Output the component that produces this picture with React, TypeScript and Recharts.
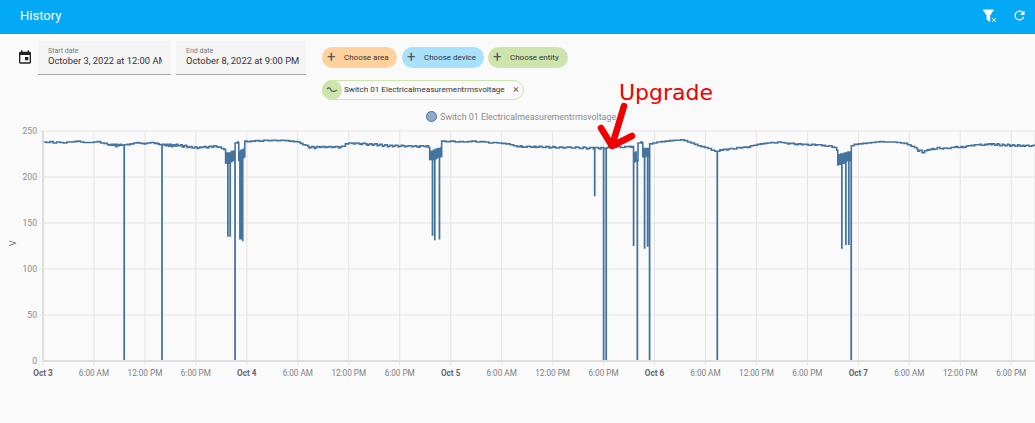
import { CartesianGrid, Line, LineChart, XAxis, YAxis } from "recharts";

const seriesName = "Switch 01 Electricalmeasurementrmsvoltage";
const lineColor = "#44739e";

// hours since Oct 3 00:00, then volts
const oct3: number[][] = [
  [0, 238], [0.4, 237.5], [0.8, 238.5], [1.2, 237], [1.6, 238], [2, 237.5], [2.4, 237], [2.8, 238], [3.2, 238],
  [3.6, 238.5], [4, 239], [4.4, 238], [4.8, 237.5], [5.2, 237.5], [5.6, 237.5], [6, 238], [6.4, 238.5], [6.8, 237],
  [7.2, 236.5], [7.6, 235], [8, 235.5], [8.2, 234.5], [8.4, 235.5], [8.6, 233], [8.8, 235], [9, 234.5], [9.2, 235],
  [9.55, 0], [9.57, 235], [9.9, 235.5], [10.3, 236], [10.7, 237], [11.1, 237.5], [11.5, 236.5], [11.9, 236],
  [12.3, 237], [12.7, 237.5], [13.1, 236.5], [13.5, 236], [14.0, 0], [14.02, 235.5], [14.3, 234.5], [14.5, 235.5],
  [14.7, 234], [14.9, 235.5], [15.1, 233.5], [15.3, 235], [15.5, 234], [15.7, 235.5], [15.9, 234], [16.2, 235],
  [16.4, 233], [16.6, 234], [16.9, 233], [17.1, 232], [17.4, 233], [17.7, 231.5], [18, 232.5], [18.3, 231.5],
  [18.6, 232], [18.9, 233], [19.2, 232], [19.5, 233], [19.8, 233], [20.1, 234], [20.4, 233], [20.7, 232.5], [21, 231],
  [21.3, 230], [21.5, 215], [21.6, 226], [21.7, 216], [21.76, 136], [21.78, 225], [21.9, 216], [22, 226], [22.03, 136],
  [22.05, 216], [22.15, 227], [22.22, 217], [22.3, 227], [22.38, 218], [22.46, 228], [22.54, 219], [22.6, 0],
  [22.62, 237], [22.9, 238], [23.0, 237], [23.05, 218], [23.12, 226], [23.18, 133], [23.2, 226], [23.28, 219],
  [23.34, 133], [23.36, 228], [23.44, 220], [23.5, 131], [23.52, 229], [23.6, 221], [23.66, 230], [23.72, 222],
];

const oct4: number[][] = [
  [23.76, 239], [24, 238.5], [24.5, 239], [25, 239.5], [25.5, 239], [26, 240], [26.5, 239.5], [27, 240], [27.5, 239.5],
  [28, 240], [28.5, 239.5], [29, 239], [29.5, 238.5], [30, 238], [30.3, 236.5], [30.6, 235], [30.9, 234.5], [31.2, 233],
  [31.5, 232], [31.8, 233], [32.1, 232], [32.4, 233], [32.7, 232.5], [33, 233], [33.4, 232.5], [33.8, 233],
  [34.2, 232.5], [34.6, 233], [35, 232.5], [35.3, 233.5], [35.6, 236], [36, 237], [36.4, 236.5], [36.8, 237], [37.2, 236],
  [37.6, 236.5], [38, 236], [38.3, 235], [38.6, 236], [38.9, 235], [39.2, 236], [39.5, 234.5], [39.8, 235.5], [40.1, 234],
  [40.4, 235], [40.7, 233.5], [41, 234.5], [41.3, 233.5], [41.6, 234.5], [42, 233.5], [42.4, 234], [42.8, 233.5], [43.2, 234],
  [43.6, 233.5], [44, 233], [44.4, 234], [44.8, 233.5], [45.2, 234], [45.4, 232], [45.53, 219], [45.6, 228], [45.68, 219],
  [45.76, 228], [45.85, 137], [45.87, 219], [45.98, 229], [46.05, 220], [46.12, 132], [46.14, 229], [46.24, 220], [46.32, 230],
  [46.4, 221], [46.48, 231], [46.56, 222], [46.67, 133], [46.69, 231], [46.78, 222], [46.86, 232],
];

const oct5: number[][] = [
  [46.94, 239], [47.4, 238.5], [48, 239], [48.5, 238], [49, 238.5], [49.5, 238], [50, 238.5], [50.5, 239], [51, 238],
  [51.5, 238.5], [52, 238], [52.5, 237], [53, 237.5], [53.5, 237], [54, 236.5], [54.5, 236], [55, 235], [55.4, 234],
  [55.8, 233], [56.2, 234], [56.6, 232.5], [57, 233.5], [57.4, 232.5], [57.8, 233.5], [58.2, 232.5], [58.6, 233], [59, 232],
  [59.4, 233], [59.8, 232], [60.2, 232.5], [60.6, 231.5], [61, 232.5], [61.5, 232], [62, 232.5], [62.5, 231.5], [63, 232],
  [63.4, 231], [63.8, 232], [64.2, 231], [64.6, 232], [64.95, 180], [64.97, 232], [65.4, 231], [65.7, 232], [66.0, 0],
  [66.02, 231], [66.3, 0], [66.32, 231.5], [66.6, 233], [67, 232.5], [67.5, 233], [68, 232], [68.5, 233], [69, 233.5],
  [69.4, 233], [69.53, 126], [69.55, 216], [69.66, 226], [69.72, 217], [69.8, 227], [69.97, 0], [69.99, 218], [70.06, 237],
  [70.4, 238], [70.55, 237], [70.62, 222], [70.7, 231], [70.82, 123], [70.84, 222], [70.95, 231], [71.02, 223], [71.1, 230],
  [71.18, 125], [71.2, 223], [71.3, 231], [71.41, 0],
];

const oct6: number[][] = [
  [71.43, 236], [71.8, 237], [72.3, 238], [72.8, 238.5], [73.3, 239], [73.8, 239.5], [74.3, 240], [74.8, 240], [75.1, 240.5],
  [75.5, 239.5], [75.9, 238], [76.3, 237], [76.7, 235.5], [77.1, 234], [77.5, 233], [77.9, 232], [78.3, 231], [78.7, 229],
  [79.1, 228], [79.38, 0], [79.4, 228], [79.7, 229.5], [80.1, 230], [80.5, 229.5], [80.9, 231], [81.3, 230.5], [81.7, 232],
  [82.1, 231.5], [82.5, 232.5], [82.9, 232], [83.3, 234], [83.7, 234.5], [84.1, 235.5], [84.5, 236], [84.9, 236.5], [85.3, 237],
  [85.7, 237.5], [86.1, 237], [86.5, 238], [86.9, 237.5], [87.3, 237], [87.7, 236], [88.1, 236.5], [88.5, 235.5], [88.9, 236],
  [89.3, 235], [89.7, 235.5], [90.1, 234.5], [90.5, 235.5], [90.9, 234.5], [91.3, 235], [91.7, 234], [92.1, 233.5], [92.5, 234],
  [92.9, 232.5], [93.2, 232], [93.45, 229], [93.58, 213], [93.65, 224], [93.73, 214], [93.81, 224], [93.89, 214], [93.97, 225],
  [94.05, 123], [94.07, 215], [94.19, 225], [94.27, 215], [94.35, 226], [94.43, 216], [94.52, 127], [94.54, 217], [94.65, 226],
  [94.73, 218], [94.8, 227], [94.87, 127], [94.89, 218], [95.01, 227], [95.15, 0],
];

const oct7: number[][] = [
  [95.17, 234], [95.5, 235.5], [96, 236], [96.5, 236.5], [97, 237], [97.5, 237.5], [98, 238], [98.5, 238.5], [99, 238],
  [99.5, 238], [100, 238], [100.5, 237.5], [101, 237], [101.4, 236.5], [101.8, 235], [102.2, 233.5], [102.6, 232],
  [102.9, 230.5], [103.2, 229], [103.5, 226.5], [103.8, 228.5], [104.1, 229.5], [104.4, 230], [104.7, 231], [105, 230.5],
  [105.3, 232], [105.6, 231], [105.9, 230.5], [106.2, 231.5], [106.5, 231], [106.9, 232], [107.3, 232.5], [107.7, 232],
  [108.1, 233], [108.5, 232.5], [108.9, 234], [109.3, 234.5], [109.7, 235], [110.1, 235], [110.5, 234.5], [110.9, 235.5],
  [111.3, 236], [111.6, 235], [111.9, 236], [112.2, 234.5], [112.5, 235.5], [112.8, 234], [113.1, 235], [113.4, 234],
  [113.7, 235], [114, 234], [114.3, 234.5], [114.6, 233.5], [114.9, 234.5], [115.2, 234], [115.5, 233.5], [115.8, 234.5],
  [116.1, 233.5], [116.4, 234], [116.8, 234],
];

// extra readings in the noisy stretches and the thick low bands
const rippleOct3: number[][] = [
  [7.8, 234.5], [8.1, 235.5], [8.3, 235.5], [8.5, 234], [8.7, 235.5], [8.9, 234], [9.1, 235.5], [9.3, 234.5], [10.1, 235],
  [11.3, 237], [12.1, 236.5], [13.3, 237], [13.7, 235], [14.2, 235.5], [14.4, 234], [14.6, 235.5], [14.8, 233.5], [15, 235.5],
  [15.2, 233], [15.4, 235], [15.6, 233.5], [15.8, 235.5], [16.05, 234], [16.3, 235], [16.5, 232.5], [16.75, 234.5], [17, 232],
  [17.25, 233], [17.55, 231.5], [17.85, 232.5], [18.15, 231], [18.45, 232.5], [18.75, 232], [19.05, 233], [19.35, 231.5], [19.65, 233.5],
  [19.95, 232.5], [20.25, 234], [20.55, 232.5], [20.85, 232.5],
  [21.56, 217], [21.64, 216], [21.73, 226], [21.86, 226], [21.95, 215], [22.08, 226], [22.12, 217], [22.18, 218], [22.26, 228],
  [22.34, 218], [22.42, 228], [22.5, 220], [23.08, 219], [23.15, 219], [23.25, 228], [23.31, 229], [23.41, 229], [23.47, 221],
  [23.57, 230], [23.63, 222], [23.69, 222],
];

const rippleOct4: number[][] = [
  [31, 234.5], [31.35, 231.5], [31.65, 233], [31.95, 231], [32.25, 233], [32.55, 232], [32.85, 233], [33.2, 232], [33.6, 233],
  [34, 232], [34.4, 233], [34.8, 231.5], [35.15, 233.5], [36.2, 237], [36.6, 236], [37, 237], [37.4, 235.5], [37.8, 236.5], [38.15, 234.5],
  [38.45, 236], [38.75, 234.5], [39.05, 236], [39.35, 234], [39.65, 235.5], [39.95, 233.5], [40.25, 235], [40.55, 233], [40.85, 234.5],
  [41.15, 233], [41.45, 234.5], [41.8, 233], [42.2, 234.5], [42.6, 233], [43, 234], [43.4, 233], [43.8, 234], [44.2, 232.5], [44.6, 234], [45, 233],
  [45.57, 220], [45.64, 228], [45.72, 219], [45.8, 219], [45.94, 228], [46.02, 229], [46.09, 220], [46.2, 230], [46.28, 221], [46.36, 230],
  [46.44, 222], [46.52, 231], [46.6, 222], [46.76, 231], [46.82, 223], [46.9, 222],
];

const rippleOct5: number[][] = [
  [53.2, 237.5], [55.6, 234], [56.4, 232.5], [57.2, 233.5], [58, 232], [58.4, 233.5], [58.8, 232], [59.2, 233], [59.6, 231.5], [60, 233],
  [60.4, 231.5], [60.8, 232.5], [61.2, 231.5], [61.7, 232.5], [62.2, 231.5], [62.7, 232.5], [63.2, 231], [63.6, 232.5], [64, 230.5], [64.4, 232],
  [64.8, 230.5], [65.2, 232], [65.55, 230.5], [65.85, 232], [66.45, 232], [66.8, 233], [67.2, 232], [67.7, 233], [68.2, 232], [68.7, 233], [69.2, 232.5],
  [69.58, 225], [69.63, 217], [69.69, 226], [69.76, 218], [69.84, 218], [70.65, 223], [70.74, 223], [70.78, 231], [70.92, 231], [70.98, 223],
  [71.06, 231], [71.14, 223], [71.24, 231], [71.27, 224], [71.35, 224],
];

const rippleOct6: number[][] = [
  [79.9, 229], [80.7, 230.5], [81.5, 230.5], [82.3, 232], [83.1, 232.5], [87.9, 236.5], [88.7, 235], [89.5, 235.5], [90.3, 234.5], [91.1, 235], [91.9, 234.5],
  [93.61, 224], [93.69, 214], [93.77, 224], [93.85, 214], [93.93, 225], [94.01, 215], [94.15, 215], [94.23, 225], [94.31, 216], [94.39, 226],
  [94.47, 217], [94.61, 226], [94.69, 218], [94.77, 227], [94.83, 218], [94.97, 218], [95.05, 227],
];

const rippleOct7: number[][] = [
  [103, 228], [104.25, 229], [104.85, 230], [105.45, 232], [106.05, 231.5], [106.7, 231], [107.5, 233], [108.3, 232], [108.7, 233.5],
  [109.5, 234], [110.3, 235.5], [111.1, 235], [111.45, 236], [111.75, 236], [112.05, 234.5], [112.35, 236], [112.65, 234], [112.95, 235.5],
  [113.25, 234], [113.55, 235.5], [113.85, 233.5], [114.15, 235], [114.45, 233.5], [114.75, 235], [115.05, 233.5], [115.35, 234.5], [115.65, 234],
  [115.95, 234.5], [116.25, 233.5], [116.6, 234.5],
];

const xTicks = [0, 6, 12, 18, 24, 30, 36, 42, 48, 54, 60, 66, 72, 78, 84, 90, 96, 102, 108, 114];
const xTickLabels = [
  "Oct 3", "6:00 AM", "12:00 PM", "6:00 PM", "Oct 4", "6:00 AM", "12:00 PM", "6:00 PM", "Oct 5", "6:00 AM",
  "12:00 PM", "6:00 PM", "Oct 6", "6:00 AM", "12:00 PM", "6:00 PM", "Oct 7", "6:00 AM", "12:00 PM", "6:00 PM",
];
const yTicks = [0, 50, 100, 150, 200, 250];

const tableData = [
  ...oct3, ...oct4, ...oct5, ...oct6, ...oct7,
  ...rippleOct3, ...rippleOct4, ...rippleOct5, ...rippleOct6, ...rippleOct7,
]
  .sort((a, b) => a[0] - b[0])
  .map(([hour, volts]) => ({ hour, volts }));

function HourTick({ x, y, payload, index }: any) {
  const label = xTickLabels[index] ?? xTickLabels[xTicks.indexOf(payload.value)];
  const isDay = payload.value % 24 === 0;
  return (
    <text
      x={x}
      y={y + 9}
      textAnchor="middle"
      fontFamily="Roboto"
      fontSize={8.2}
      fontWeight={isDay ? 700 : 400}
      fill={isDay ? "#666666" : "#7f7f7f"}
    >
      {label}
    </text>
  );
}

const chip = (left: number, top: number, width: number, height: number, background: string): React.CSSProperties => ({
  position: "absolute",
  left,
  top,
  width,
  height,
  background,
  borderRadius: 11,
  boxSizing: "border-box",
  color: "#333",
  lineHeight: `${height}px`,
});

function ActionChip({ left, width, color, label }: { left: number; width: number; color: string; label: string }) {
  return (
    <div style={{ ...chip(left, 47, width, 21, color), fontSize: 8 }}>
      <span style={{ position: "absolute", left: 5, top: 0, fontSize: 15, color: "#555" }}>+</span>
      <span style={{ position: "absolute", left: 22, top: 0, whiteSpace: "nowrap" }}>{label}</span>
    </div>
  );
}

function DateField({ left, width, right, label, value }: { left: number; width: number; right: number; label: string; value: string }) {
  return (
    <div
      style={{
        position: "absolute",
        left,
        top: 41,
        width,
        height: 33,
        background: "#f5f5f5",
        borderBottom: "1px solid #a8a8a8",
        overflow: "hidden",
        whiteSpace: "nowrap",
      }}
    >
      <div style={{ position: "absolute", left: 10, top: 6, fontSize: 7, color: "#777" }}>{label}</div>
      <div style={{ position: "absolute", left: 10, top: 14, right, overflow: "hidden", fontSize: 9.4, color: "#333" }}>
        {value}
      </div>
    </div>
  );
}

export default function App() {
  return (
    <div
      style={{
        position: "absolute",
        left: 0,
        top: 0,
        width: 1035,
        height: 423,
        overflow: "hidden",
        background: "#fafafa",
        fontFamily: "Roboto",
      }}
    >
      <div style={{ position: "absolute", left: 0, top: 0, width: 1035, height: 34, background: "#03a9f4" }}>
        <div style={{ position: "absolute", left: 20, top: 8, fontSize: 13, color: "#fff" }}>History</div>
        <svg width={16} height={16} viewBox="0 0 24 24" style={{ position: "absolute", left: 982, top: 8 }}>
          <path d="M2 3h15l-5.5 8v9l-4-3v-6z M15 15l6 6m0-6l-6 6" fill="#fff" stroke="#fff" strokeWidth={1.5} />
        </svg>
        <svg width={15} height={15} viewBox="0 0 24 24" style={{ position: "absolute", left: 1012, top: 8 }}>
          <path
            d="M17.65 6.35A8 8 0 1 0 19.73 14h-2.08A6 6 0 1 1 12 6c1.66 0 3.14.69 4.22 1.78L13 11h7V4l-2.35 2.35z"
            fill="#fff"
          />
        </svg>
      </div>

      <svg width={16} height={16} viewBox="0 0 24 24" style={{ position: "absolute", left: 17, top: 49 }}>
        <path
          d="M19 4h-1V2h-2v2H8V2H6v2H5a2 2 0 0 0-2 2v14a2 2 0 0 0 2 2h14a2 2 0 0 0 2-2V6a2 2 0 0 0-2-2zm0 16H5V9h14v11zM12 12h5v5h-5z"
          fill="#222"
        />
      </svg>
      <DateField left={38} width={133} right={9} label="Start date" value="October 3, 2022 at 12:00 AM" />
      <DateField left={176} width={130} right={0} label="End date" value="October 8, 2022 at 9:00 PM" />

      <ActionChip left={322} width={75} color="#ffd19c" label="Choose area" />
      <ActionChip left={402} width={82} color="#a8e1fb" label="Choose device" />
      <ActionChip left={488} width={80} color="#cde4ad" label="Choose entity" />

      <div style={{ ...chip(322, 80, 202, 20, "#fafafa"), border: "1.5px solid #cde4ad", lineHeight: "17px", fontSize: 8.1 }}>
        <div style={{ position: "absolute", left: -1, top: -1, width: 20, height: 20, borderRadius: 10, background: "#cde4ad" }} />
        <svg width={12} height={8} viewBox="0 0 12 8" style={{ position: "absolute", left: 3, top: 5 }}>
          <path d="M1 3c2-2 3-1 4 1s3 2 6 0" fill="none" stroke="#666" strokeWidth={1.4} />
        </svg>
        <span style={{ position: "absolute", left: 21, top: 0, whiteSpace: "nowrap" }}>{seriesName}</span>
        <span style={{ position: "absolute", left: 190, top: 0, fontSize: 11, color: "#666" }}>×</span>
      </div>

      <div style={{ position: "absolute", left: 426, top: 111, width: 9, height: 9, borderRadius: 6, background: "#8fabc8", border: "1px solid #44739e" }} />
      <div style={{ position: "absolute", left: 440, top: 111, fontSize: 8.9, lineHeight: "12px", color: "#8a8a8a", whiteSpace: "nowrap" }}>{seriesName}</div>

      <div style={{ position: "absolute", left: 0, top: 0 }}>
        <LineChart width={1035} height={423} data={tableData} margin={{ top: 131, right: 0, bottom: 0, left: 0 }}>
          <CartesianGrid stroke="#e4e4e4" strokeWidth={1} />
          <XAxis
            dataKey="hour"
            type="number"
            domain={[0, 116.8]}
            ticks={xTicks}
            interval={0}
            height={62}
            tick={HourTick}
            tickSize={4}
            axisLine={{ stroke: "#dddddd", strokeWidth: 2 }}
            tickLine={{ stroke: "#e4e4e4" }}
          />
          <YAxis
            type="number"
            domain={[0, 250]}
            ticks={yTicks}
            width={43}
            tickSize={4}
            axisLine={{ stroke: "#dddddd", strokeWidth: 2 }}
            tickLine={{ stroke: "#e4e4e4" }}
            tick={{ fontSize: 8.6, fill: "#8a8a8a", fontFamily: "Roboto" }}
            label={{ value: "V", angle: -90, position: "insideLeft", offset: 13, fontSize: 9, fill: "#777", fontFamily: "Roboto" }}
          />
          <Line
            dataKey="volts"
            type="stepAfter"
            stroke={lineColor}
            strokeWidth={1.6}
            dot={false}
            isAnimationActive={false}
          />
        </LineChart>
      </div>

      <svg width={1035} height={423} style={{ position: "absolute", left: 0, top: 0, pointerEvents: "none" }}>
        <text x={619} y={100} fill="#f00000" fontFamily="DejaVu Sans" fontSize={22}>
          Upgrade
        </text>
        <path
          d="M624 106 L612 146 M601 128 L612 146 L632 136"
          fill="none"
          stroke="#f00000"
          strokeWidth={6.5}
          strokeLinecap="round"
          strokeLinejoin="round"
        />
      </svg>
    </div>
  );
}
